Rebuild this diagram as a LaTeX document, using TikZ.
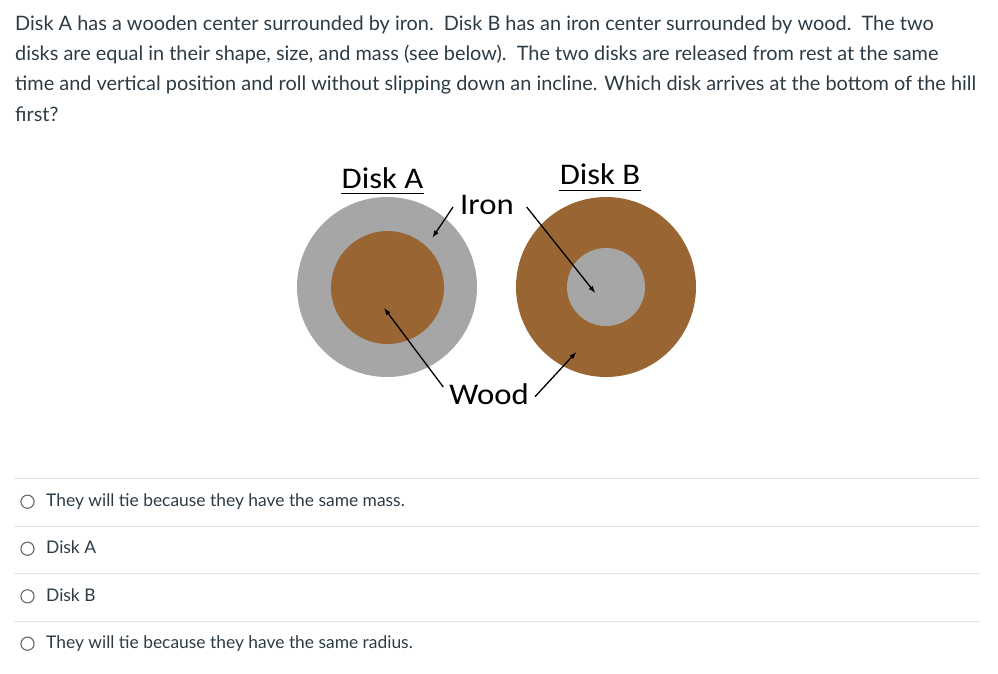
\documentclass[tikz,border=0pt]{standalone}
\usepackage{fontspec}
\setmainfont{Lato}
\newfontfamily\calib{Carlito}
\usepackage{tikz}
\usetikzlibrary{arrows}
\definecolor{ink}{HTML}{2D3B45}
\definecolor{iron}{HTML}{A6A6A6}
\definecolor{wood}{HTML}{996633}
\definecolor{rule}{HTML}{E2E2E2}
\tikzset{
  qtext/.style={anchor=base west,inner sep=0pt,text=ink,font=\fontsize{19.9}{24}\selectfont},
  otext/.style={anchor=base west,inner sep=0pt,text=ink,font=\fontsize{17.4}{21}\selectfont},
  lbl/.style={inner sep=1pt,font=\calib\fontsize{30}{33}\selectfont},
  pointer/.style={line width=1.3pt,-latex}
}
\newcommand{\wide}[1]{\scalebox{1.09}[1]{#1}}
\begin{document}
\begin{tikzpicture}[x=1pt,y=-1pt]
\useasboundingbox (0,0) rectangle (998,673);
% question
\node[qtext] (q1) at (15,30.5) {Disk A has a wooden center surrounded by iron.\ \ Disk B has an iron center surrounded by wood.\ \ The two};
\node[qtext] (q2) at (15,60.7) {disks are equal in their shape, size, and mass (see below).\ \ The two disks are released from rest at the same};
\node[qtext] (q3) at (15,90.8) {time and vertical position and roll without slipping down an incline. Which disk arrives at the bottom of the hill};
\node[qtext] (q4) at (15,121) {first?};
% disks
\fill[iron] (387,287) circle (90);
\fill[wood] (387.5,287.5) circle (56.5);
\fill[wood] (606,287) circle (90);
\fill[iron] (606,287) circle (39);
% labels
\node[lbl,anchor=base] (diskA) at (382.5,188) {\wide{Disk A}};
\draw[line width=1.4pt] (341,193.5) to (424,193.5);
\node[lbl,anchor=base] (diskB) at (600,184) {\wide{Disk B}};
\draw[line width=1.4pt] (559,190.5) to (641,190.5);
\node[lbl] (ironlbl) at (487,205) {\wide{Iron}};
\node[lbl] (woodlbl) at (489,394) {\wide{Wood}};
\coordinate (ironfromA) at (453,207);
\coordinate (ironfromB) at (526.7,207);
\coordinate (woodfromA) at (443.3,387);
\coordinate (woodfromB) at (535,396.7);
\coordinate (ironA) at (432.7,237.3);
\coordinate (ironB) at (595,292.7);
\coordinate (woodA) at (384.3,308.3);
\coordinate (woodB) at (576,352.3);
% pointers
\draw[pointer] (ironfromA) to (ironA);
\draw[pointer] (ironfromB) to (ironB);
\draw[pointer] (woodfromA) to (woodA);
\draw[pointer] (woodfromB) to (woodB);
% answers
\foreach \y in {478.3,525.7,573.3,620.7}
  \draw[rule] (14,\y) to (980,\y);
\foreach \y in {501.7,548.7,596.3,643.7}
  \draw[line width=1.1pt,gray!80!black] (27.5,\y) circle (6.6);
\node[otext] (o1) at (46,506) {They will tie because they have the same mass.};
\node[otext] (o2) at (46,553) {Disk A};
\node[otext] (o3) at (46,601) {Disk B};
\node[otext] (o4) at (46,648) {They will tie because they have the same radius.};
\end{tikzpicture}
\end{document}
